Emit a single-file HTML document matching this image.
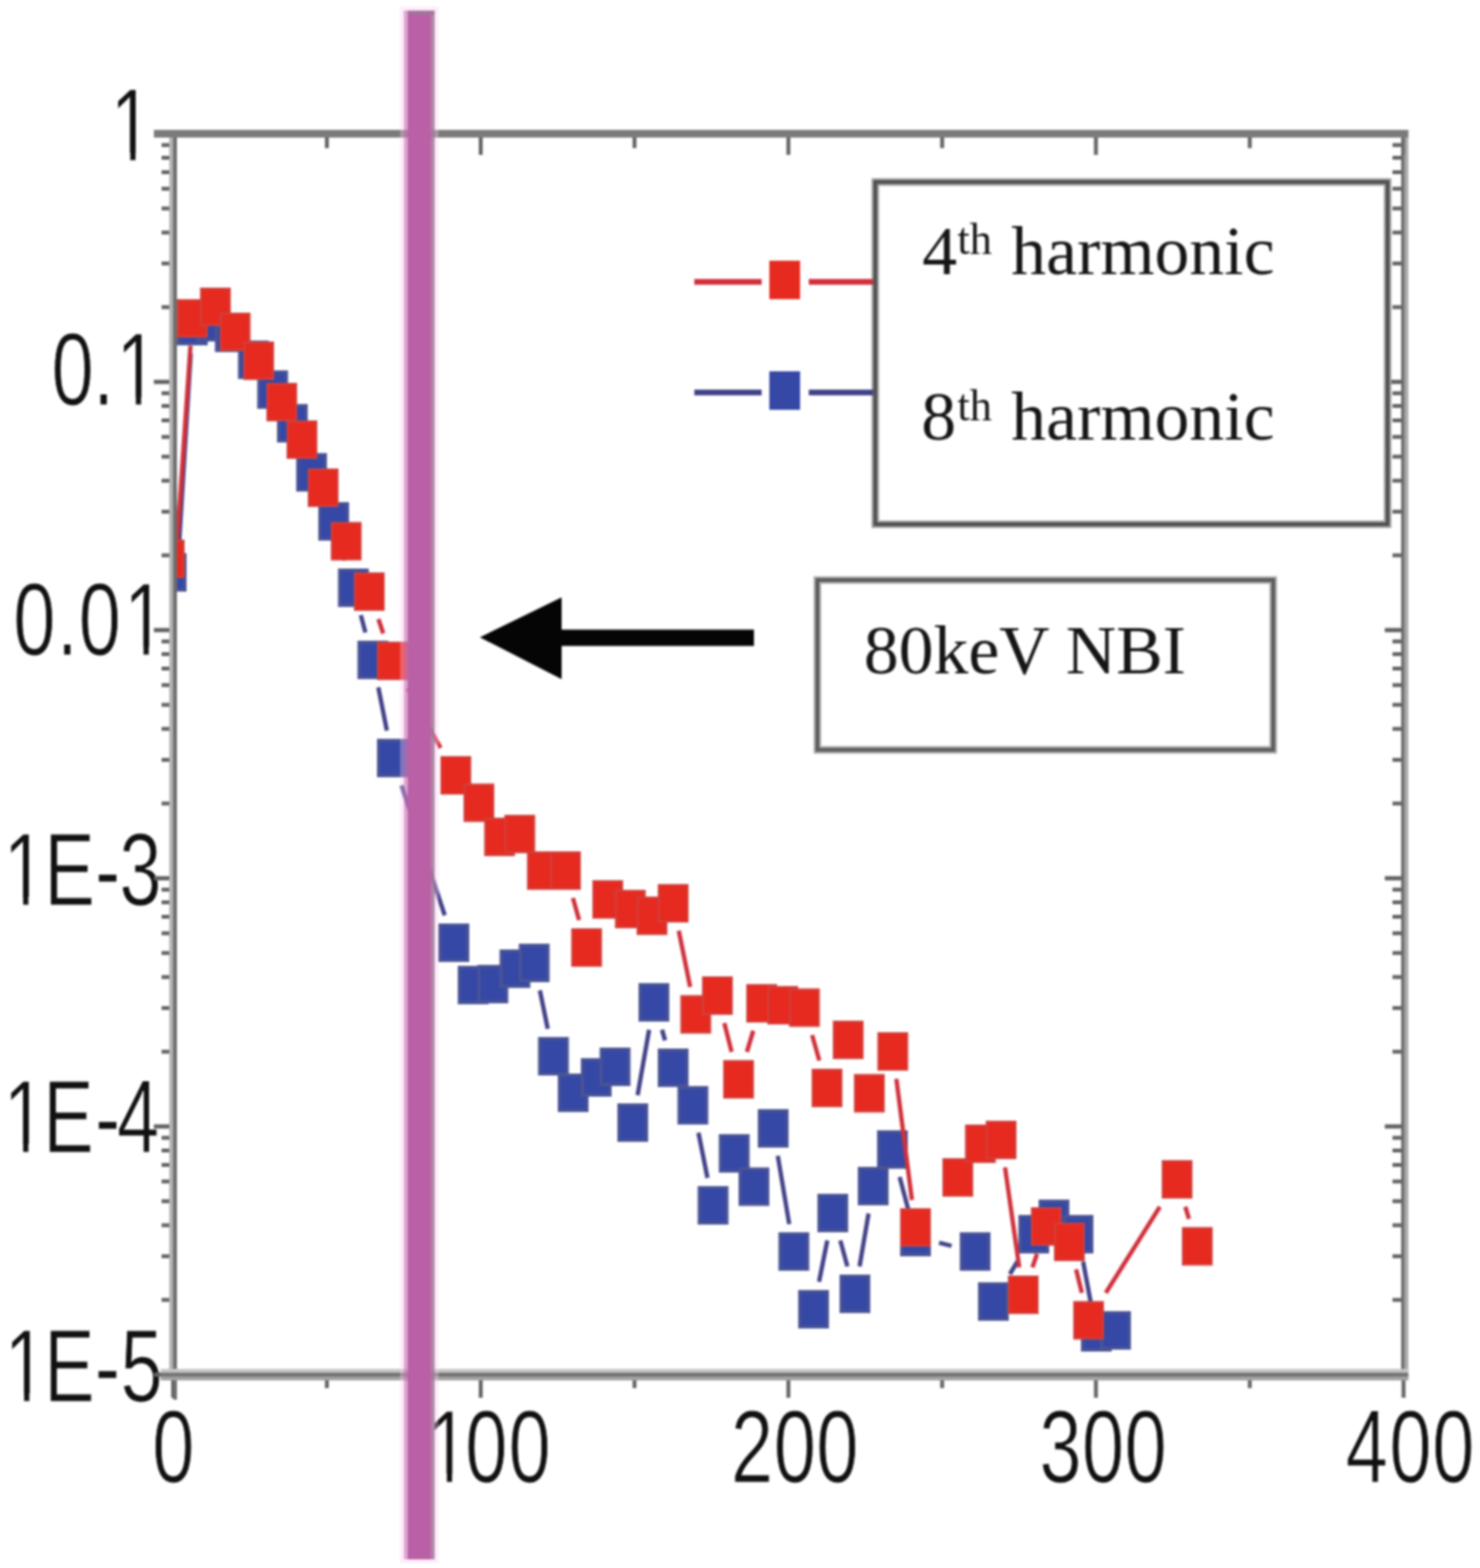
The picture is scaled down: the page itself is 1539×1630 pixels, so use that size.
<!DOCTYPE html>
<html><head><meta charset="utf-8"><title>Spectrum</title>
<style>html,body{margin:0;padding:0;background:#fff;overflow:hidden}svg{display:block}</style>
</head><body>
<svg width="1539" height="1630" viewBox="0 0 1539 1630" style="filter:blur(1.2px)">
<rect width="1539" height="1630" fill="#fff"/>
<defs><clipPath id="c0"><path clip-rule="evenodd" d="M0,0H1539V1630H0Z M117.2,158.4H135.5V170.5H117.2Z M140.9,158.4H159.2V170.5H140.9Z"/></clipPath><clipPath id="c1"><path clip-rule="evenodd" d="M0,0H1539V1630H0Z M123.0,412.4H141.3V424.5H123.0Z M146.7,412.4H165.0V424.5H146.7Z"/></clipPath><clipPath id="c2"><path clip-rule="evenodd" d="M0,0H1539V1630H0Z M131.0,672.2H149.3V684.3H131.0Z M154.7,672.2H173.0V684.3H154.7Z"/></clipPath><clipPath id="c3"><path clip-rule="evenodd" d="M0,0H1539V1630H0Z M5.8,932.2H24.1V944.3H5.8Z M29.5,932.2H47.8V944.3H29.5Z"/></clipPath><clipPath id="c4"><path clip-rule="evenodd" d="M0,0H1539V1630H0Z M5.8,1188.9H24.1V1201.0H5.8Z M29.5,1188.9H47.8V1201.0H29.5Z"/></clipPath><clipPath id="c5"><path clip-rule="evenodd" d="M0,0H1539V1630H0Z M6.8,1448.2H25.1V1460.3H6.8Z M30.5,1448.2H48.8V1460.3H30.5Z"/></clipPath><clipPath id="c6"><path clip-rule="evenodd" d="M0,0H1539V1630H0Z M446.4,1532.1H464.7V1544.2H446.4Z M470.1,1532.1H488.4V1544.2H470.1Z"/></clipPath></defs>
<g style="font-family:'Liberation Sans',Arial,sans-serif" fill="#111" stroke="#fff" stroke-width="1.2">
<g clip-path="url(#c0)"><text transform="scale(0.74,1)" x="155.19" y="167.5" font-size="107">1</text></g>
<g clip-path="url(#c1)"><text transform="scale(0.74,1)" x="72.27 130.81 163.03" y="421.5" font-size="107">0.1</text></g>
<g clip-path="url(#c2)"><text transform="scale(0.74,1)" x="18.49 79.60 110.51 173.84" y="681.3" font-size="107">0.01</text></g>
<g clip-path="url(#c3)"><text transform="scale(0.74,1)" x="4.65 62.23 133.40 167.45" y="941.3" font-size="107">1E-3</text></g>
<g clip-path="url(#c4)"><text transform="scale(0.74,1)" x="4.65 60.61 133.40 164.37" y="1198" font-size="107">1E-4</text></g>
<g clip-path="url(#c5)"><text transform="scale(0.74,1)" x="6.00 61.69 133.00 169.27" y="1457.3" font-size="107">1E-5</text></g>
<text transform="scale(0.74,1)" x="213.89" y="1541.2" font-size="107">0</text>
<g clip-path="url(#c6)"><text transform="scale(0.74,1)" x="600.06 653.76 714.43" y="1541.2" font-size="107">100</text></g>
<text transform="scale(0.74,1)" x="1027.00 1087.14 1147.14" y="1541.2" font-size="107">200</text>
<text transform="scale(0.74,1)" x="1460.42 1520.24 1580.11" y="1541.2" font-size="107">300</text>
<text transform="scale(0.74,1)" x="1890.72 1952.41 2012.41" y="1541.2" font-size="107">400</text>
</g>
<g>
<rect x="168.0" y="317.3" width="12.0" height="4.0" fill="#626262"/>
<rect x="1448.0" y="317.3" width="10.0" height="4.0" fill="#626262"/>
<rect x="168.0" y="271.9" width="12.0" height="4.0" fill="#626262"/>
<rect x="1448.0" y="271.9" width="10.0" height="4.0" fill="#626262"/>
<rect x="168.0" y="239.7" width="12.0" height="4.0" fill="#626262"/>
<rect x="1448.0" y="239.7" width="10.0" height="4.0" fill="#626262"/>
<rect x="168.0" y="214.7" width="12.0" height="4.0" fill="#626262"/>
<rect x="1448.0" y="214.7" width="10.0" height="4.0" fill="#626262"/>
<rect x="168.0" y="194.2" width="12.0" height="4.0" fill="#626262"/>
<rect x="1448.0" y="194.2" width="10.0" height="4.0" fill="#626262"/>
<rect x="168.0" y="177.0" width="12.0" height="4.0" fill="#626262"/>
<rect x="1448.0" y="177.0" width="10.0" height="4.0" fill="#626262"/>
<rect x="168.0" y="162.0" width="12.0" height="4.0" fill="#626262"/>
<rect x="1448.0" y="162.0" width="10.0" height="4.0" fill="#626262"/>
<rect x="168.0" y="148.8" width="12.0" height="4.0" fill="#626262"/>
<rect x="1448.0" y="148.8" width="10.0" height="4.0" fill="#626262"/>
<rect x="168.0" y="575.3" width="12.0" height="4.0" fill="#626262"/>
<rect x="1448.0" y="575.3" width="10.0" height="4.0" fill="#626262"/>
<rect x="168.0" y="529.9" width="12.0" height="4.0" fill="#626262"/>
<rect x="1448.0" y="529.9" width="10.0" height="4.0" fill="#626262"/>
<rect x="168.0" y="497.7" width="12.0" height="4.0" fill="#626262"/>
<rect x="1448.0" y="497.7" width="10.0" height="4.0" fill="#626262"/>
<rect x="168.0" y="472.7" width="12.0" height="4.0" fill="#626262"/>
<rect x="1448.0" y="472.7" width="10.0" height="4.0" fill="#626262"/>
<rect x="168.0" y="452.2" width="12.0" height="4.0" fill="#626262"/>
<rect x="1448.0" y="452.2" width="10.0" height="4.0" fill="#626262"/>
<rect x="168.0" y="435.0" width="12.0" height="4.0" fill="#626262"/>
<rect x="1448.0" y="435.0" width="10.0" height="4.0" fill="#626262"/>
<rect x="168.0" y="420.0" width="12.0" height="4.0" fill="#626262"/>
<rect x="1448.0" y="420.0" width="10.0" height="4.0" fill="#626262"/>
<rect x="168.0" y="406.8" width="12.0" height="4.0" fill="#626262"/>
<rect x="1448.0" y="406.8" width="10.0" height="4.0" fill="#626262"/>
<rect x="168.0" y="833.3" width="12.0" height="4.0" fill="#626262"/>
<rect x="1448.0" y="833.3" width="10.0" height="4.0" fill="#626262"/>
<rect x="168.0" y="787.9" width="12.0" height="4.0" fill="#626262"/>
<rect x="1448.0" y="787.9" width="10.0" height="4.0" fill="#626262"/>
<rect x="168.0" y="755.7" width="12.0" height="4.0" fill="#626262"/>
<rect x="1448.0" y="755.7" width="10.0" height="4.0" fill="#626262"/>
<rect x="168.0" y="730.7" width="12.0" height="4.0" fill="#626262"/>
<rect x="1448.0" y="730.7" width="10.0" height="4.0" fill="#626262"/>
<rect x="168.0" y="710.2" width="12.0" height="4.0" fill="#626262"/>
<rect x="1448.0" y="710.2" width="10.0" height="4.0" fill="#626262"/>
<rect x="168.0" y="693.0" width="12.0" height="4.0" fill="#626262"/>
<rect x="1448.0" y="693.0" width="10.0" height="4.0" fill="#626262"/>
<rect x="168.0" y="678.0" width="12.0" height="4.0" fill="#626262"/>
<rect x="1448.0" y="678.0" width="10.0" height="4.0" fill="#626262"/>
<rect x="168.0" y="664.8" width="12.0" height="4.0" fill="#626262"/>
<rect x="1448.0" y="664.8" width="10.0" height="4.0" fill="#626262"/>
<rect x="168.0" y="1091.3" width="12.0" height="4.0" fill="#626262"/>
<rect x="1448.0" y="1091.3" width="10.0" height="4.0" fill="#626262"/>
<rect x="168.0" y="1045.9" width="12.0" height="4.0" fill="#626262"/>
<rect x="1448.0" y="1045.9" width="10.0" height="4.0" fill="#626262"/>
<rect x="168.0" y="1013.7" width="12.0" height="4.0" fill="#626262"/>
<rect x="1448.0" y="1013.7" width="10.0" height="4.0" fill="#626262"/>
<rect x="168.0" y="988.7" width="12.0" height="4.0" fill="#626262"/>
<rect x="1448.0" y="988.7" width="10.0" height="4.0" fill="#626262"/>
<rect x="168.0" y="968.2" width="12.0" height="4.0" fill="#626262"/>
<rect x="1448.0" y="968.2" width="10.0" height="4.0" fill="#626262"/>
<rect x="168.0" y="951.0" width="12.0" height="4.0" fill="#626262"/>
<rect x="1448.0" y="951.0" width="10.0" height="4.0" fill="#626262"/>
<rect x="168.0" y="936.0" width="12.0" height="4.0" fill="#626262"/>
<rect x="1448.0" y="936.0" width="10.0" height="4.0" fill="#626262"/>
<rect x="168.0" y="922.8" width="12.0" height="4.0" fill="#626262"/>
<rect x="1448.0" y="922.8" width="10.0" height="4.0" fill="#626262"/>
<rect x="168.0" y="1349.3" width="12.0" height="4.0" fill="#626262"/>
<rect x="1448.0" y="1349.3" width="10.0" height="4.0" fill="#626262"/>
<rect x="168.0" y="1303.9" width="12.0" height="4.0" fill="#626262"/>
<rect x="1448.0" y="1303.9" width="10.0" height="4.0" fill="#626262"/>
<rect x="168.0" y="1271.7" width="12.0" height="4.0" fill="#626262"/>
<rect x="1448.0" y="1271.7" width="10.0" height="4.0" fill="#626262"/>
<rect x="168.0" y="1246.7" width="12.0" height="4.0" fill="#626262"/>
<rect x="1448.0" y="1246.7" width="10.0" height="4.0" fill="#626262"/>
<rect x="168.0" y="1226.2" width="12.0" height="4.0" fill="#626262"/>
<rect x="1448.0" y="1226.2" width="10.0" height="4.0" fill="#626262"/>
<rect x="168.0" y="1209.0" width="12.0" height="4.0" fill="#626262"/>
<rect x="1448.0" y="1209.0" width="10.0" height="4.0" fill="#626262"/>
<rect x="168.0" y="1194.0" width="12.0" height="4.0" fill="#626262"/>
<rect x="1448.0" y="1194.0" width="10.0" height="4.0" fill="#626262"/>
<rect x="168.0" y="1180.8" width="12.0" height="4.0" fill="#626262"/>
<rect x="1448.0" y="1180.8" width="10.0" height="4.0" fill="#626262"/>
<rect x="160.0" y="136.8" width="20.0" height="4.4" fill="#626262"/>
<rect x="1440.0" y="136.8" width="18.0" height="4.4" fill="#626262"/>
<rect x="160.0" y="394.8" width="20.0" height="4.4" fill="#626262"/>
<rect x="1440.0" y="394.8" width="18.0" height="4.4" fill="#626262"/>
<rect x="160.0" y="652.8" width="20.0" height="4.4" fill="#626262"/>
<rect x="1440.0" y="652.8" width="18.0" height="4.4" fill="#626262"/>
<rect x="160.0" y="910.8" width="20.0" height="4.4" fill="#626262"/>
<rect x="1440.0" y="910.8" width="18.0" height="4.4" fill="#626262"/>
<rect x="160.0" y="1168.8" width="20.0" height="4.4" fill="#626262"/>
<rect x="1440.0" y="1168.8" width="18.0" height="4.4" fill="#626262"/>
<rect x="160.0" y="1426.8" width="20.0" height="4.4" fill="#626262"/>
<rect x="1440.0" y="1426.8" width="18.0" height="4.4" fill="#626262"/>
<rect x="178.0" y="1431.0" width="4.0" height="22.0" fill="#626262"/>
<rect x="178.0" y="139.0" width="4.0" height="22.0" fill="#626262"/>
<rect x="337.9" y="1431.0" width="4.0" height="12.0" fill="#626262"/>
<rect x="337.9" y="139.0" width="4.0" height="15.0" fill="#626262"/>
<rect x="497.9" y="1431.0" width="4.0" height="22.0" fill="#626262"/>
<rect x="497.9" y="139.0" width="4.0" height="22.0" fill="#626262"/>
<rect x="657.8" y="1431.0" width="4.0" height="12.0" fill="#626262"/>
<rect x="657.8" y="139.0" width="4.0" height="15.0" fill="#626262"/>
<rect x="817.8" y="1431.0" width="4.0" height="22.0" fill="#626262"/>
<rect x="817.8" y="139.0" width="4.0" height="22.0" fill="#626262"/>
<rect x="977.7" y="1431.0" width="4.0" height="12.0" fill="#626262"/>
<rect x="977.7" y="139.0" width="4.0" height="15.0" fill="#626262"/>
<rect x="1137.6" y="1431.0" width="4.0" height="22.0" fill="#626262"/>
<rect x="1137.6" y="139.0" width="4.0" height="22.0" fill="#626262"/>
<rect x="1297.6" y="1431.0" width="4.0" height="12.0" fill="#626262"/>
<rect x="1297.6" y="139.0" width="4.0" height="15.0" fill="#626262"/>
<rect x="1457.5" y="1431.0" width="4.0" height="22.0" fill="#626262"/>
<rect x="1457.5" y="139.0" width="4.0" height="22.0" fill="#626262"/>
<rect x="176.0" y="137.0" width="4.0" height="1294.0" fill="#b4b4b4"/>
<rect x="180.0" y="135.0" width="4.0" height="1320.0" fill="#6e6e6e"/>
<rect x="1460.5" y="135.0" width="3.9" height="1300.0" fill="#a8a8a8"/>
<rect x="1457.0" y="135.0" width="3.5" height="1300.0" fill="#6a6a6a"/>
<rect x="160.0" y="135.0" width="1304.4" height="8.0" fill="#7b7b7b"/>
<rect x="167.0" y="1423.0" width="1297.4" height="4.0" fill="#c4c4c4"/>
<rect x="167.0" y="1427.0" width="1297.4" height="4.0" fill="#737373"/>
<rect x="167.0" y="1431.0" width="1297.4" height="4.0" fill="#a2a2a2"/>
</g>

<defs><clipPath id="pc"><rect x="184" y="143" width="1273" height="1280"/></clipPath></defs>
<g clip-path="url(#pc)">
<path d="M185.0,585.0L198.3,367.5M355.5,570.5L359.0,582.5M375.2,639.5L380.0,657.5M393.4,714.5L402.3,759.5M417.5,816.5L462.5,951.5M561.4,1029.5L569.6,1069.5M663.0,1138.5L675.0,1070.5M688.4,1070.5L691.6,1081.5M726.3,1177.5L735.7,1224.5M808.8,1201.5L820.7,1272.5M851.7,1332.5L860.3,1289.5M873.8,1289.5L881.2,1316.5M893.8,1316.5L903.2,1261.5M935.5,1223.5L944.5,1257.5M976.5,1291.9L989.5,1295.1M1050.1,1324.5L1057.9,1311.5M1126.3,1311.5L1134.7,1356.5" fill="none" stroke="#424288" stroke-width="4.5"/>
<rect x="163.5" y="576.5" width="29" height="37" fill="#3648a6" stroke="#4a5494" stroke-width="3"/>
<rect x="185.5" y="320.5" width="29" height="37" fill="#3648a6" stroke="#4a5494" stroke-width="3"/>
<rect x="205.5" y="316.5" width="29" height="37" fill="#3648a6" stroke="#4a5494" stroke-width="3"/>
<rect x="225.0" y="327.5" width="29" height="37" fill="#3648a6" stroke="#4a5494" stroke-width="3"/>
<rect x="249.0" y="355.5" width="29" height="37" fill="#3648a6" stroke="#4a5494" stroke-width="3"/>
<rect x="269.0" y="386.5" width="29" height="37" fill="#3648a6" stroke="#4a5494" stroke-width="3"/>
<rect x="289.5" y="421.5" width="29" height="37" fill="#3648a6" stroke="#4a5494" stroke-width="3"/>
<rect x="309.5" y="472.5" width="29" height="37" fill="#3648a6" stroke="#4a5494" stroke-width="3"/>
<rect x="332.5" y="523.5" width="29" height="37" fill="#3648a6" stroke="#4a5494" stroke-width="3"/>
<rect x="353.0" y="592.5" width="29" height="37" fill="#3648a6" stroke="#4a5494" stroke-width="3"/>
<rect x="373.2" y="667.5" width="29" height="37" fill="#3648a6" stroke="#4a5494" stroke-width="3"/>
<rect x="393.5" y="769.5" width="29" height="37" fill="#3648a6" stroke="#4a5494" stroke-width="3"/>
<rect x="457.5" y="961.5" width="29" height="37" fill="#3648a6" stroke="#4a5494" stroke-width="3"/>
<rect x="477.5" y="1005.5" width="29" height="37" fill="#3648a6" stroke="#4a5494" stroke-width="3"/>
<rect x="498.0" y="1004.5" width="29" height="37" fill="#3648a6" stroke="#4a5494" stroke-width="3"/>
<rect x="521.0" y="988.5" width="29" height="37" fill="#3648a6" stroke="#4a5494" stroke-width="3"/>
<rect x="541.0" y="982.5" width="29" height="37" fill="#3648a6" stroke="#4a5494" stroke-width="3"/>
<rect x="561.0" y="1079.5" width="29" height="37" fill="#3648a6" stroke="#4a5494" stroke-width="3"/>
<rect x="581.5" y="1117.5" width="29" height="37" fill="#3648a6" stroke="#4a5494" stroke-width="3"/>
<rect x="605.5" y="1101.5" width="29" height="37" fill="#3648a6" stroke="#4a5494" stroke-width="3"/>
<rect x="625.1" y="1090.5" width="29" height="37" fill="#3648a6" stroke="#4a5494" stroke-width="3"/>
<rect x="643.5" y="1148.5" width="29" height="37" fill="#3648a6" stroke="#4a5494" stroke-width="3"/>
<rect x="665.5" y="1023.5" width="29" height="37" fill="#3648a6" stroke="#4a5494" stroke-width="3"/>
<rect x="685.5" y="1091.5" width="29" height="37" fill="#3648a6" stroke="#4a5494" stroke-width="3"/>
<rect x="706.0" y="1130.5" width="29" height="37" fill="#3648a6" stroke="#4a5494" stroke-width="3"/>
<rect x="727.0" y="1234.5" width="29" height="37" fill="#3648a6" stroke="#4a5494" stroke-width="3"/>
<rect x="749.0" y="1180.5" width="29" height="37" fill="#3648a6" stroke="#4a5494" stroke-width="3"/>
<rect x="769.5" y="1215.1" width="29" height="37" fill="#3648a6" stroke="#4a5494" stroke-width="3"/>
<rect x="789.5" y="1154.5" width="29" height="37" fill="#3648a6" stroke="#4a5494" stroke-width="3"/>
<rect x="811.0" y="1282.5" width="29" height="37" fill="#3648a6" stroke="#4a5494" stroke-width="3"/>
<rect x="831.5" y="1342.5" width="29" height="37" fill="#3648a6" stroke="#4a5494" stroke-width="3"/>
<rect x="851.5" y="1242.5" width="29" height="37" fill="#3648a6" stroke="#4a5494" stroke-width="3"/>
<rect x="874.5" y="1326.5" width="29" height="37" fill="#3648a6" stroke="#4a5494" stroke-width="3"/>
<rect x="893.5" y="1214.5" width="29" height="37" fill="#3648a6" stroke="#4a5494" stroke-width="3"/>
<rect x="913.5" y="1176.5" width="29" height="37" fill="#3648a6" stroke="#4a5494" stroke-width="3"/>
<rect x="937.5" y="1267.5" width="29" height="37" fill="#3648a6" stroke="#4a5494" stroke-width="3"/>
<rect x="999.5" y="1282.5" width="29" height="37" fill="#3648a6" stroke="#4a5494" stroke-width="3"/>
<rect x="1018.5" y="1334.5" width="29" height="37" fill="#3648a6" stroke="#4a5494" stroke-width="3"/>
<rect x="1060.5" y="1264.5" width="29" height="37" fill="#3648a6" stroke="#4a5494" stroke-width="3"/>
<rect x="1081.5" y="1248.5" width="29" height="37" fill="#3648a6" stroke="#4a5494" stroke-width="3"/>
<rect x="1106.5" y="1264.5" width="29" height="37" fill="#3648a6" stroke="#4a5494" stroke-width="3"/>
<rect x="1125.5" y="1366.5" width="29" height="37" fill="#3648a6" stroke="#4a5494" stroke-width="3"/>
<rect x="1145.5" y="1364.5" width="29" height="37" fill="#3648a6" stroke="#4a5494" stroke-width="3"/>
<path d="M184.0,565.0L198.1,359.5M393.5,643.5L398.5,658.5M423.8,715.5L458.2,777.5M595.8,933.5L602.2,956.5M705.8,967.5L717.7,1026.0M753.2,1063.5L760.8,1093.5M776.7,1093.5L783.3,1071.5M844.5,1076.0L852.0,1102.5M932.1,1121.5L948.3,1247.5M1045.1,1213.5L1059.9,1317.5M1073.6,1317.5L1078.4,1303.5M1119.0,1319.5L1125.0,1344.0M1149.9,1344.0L1206.1,1254.5M1232.6,1254.5L1236.4,1267.1" fill="none" stroke="#d0303c" stroke-width="4.5"/>
<rect x="161.0" y="562.0" width="30" height="38" fill="#e62a20" stroke="#d0403c" stroke-width="2"/>
<rect x="185.0" y="312.0" width="30" height="38" fill="#e62a20" stroke="#d0403c" stroke-width="2"/>
<rect x="209.0" y="300.0" width="30" height="38" fill="#e62a20" stroke="#d0403c" stroke-width="2"/>
<rect x="229.5" y="326.0" width="30" height="38" fill="#e62a20" stroke="#d0403c" stroke-width="2"/>
<rect x="254.0" y="356.0" width="30" height="38" fill="#e62a20" stroke="#d0403c" stroke-width="2"/>
<rect x="278.0" y="399.0" width="30" height="38" fill="#e62a20" stroke="#d0403c" stroke-width="2"/>
<rect x="299.0" y="438.0" width="30" height="38" fill="#e62a20" stroke="#d0403c" stroke-width="2"/>
<rect x="321.0" y="488.0" width="30" height="38" fill="#e62a20" stroke="#d0403c" stroke-width="2"/>
<rect x="345.0" y="543.6" width="30" height="38" fill="#e62a20" stroke="#d0403c" stroke-width="2"/>
<rect x="369.0" y="596.0" width="30" height="38" fill="#e62a20" stroke="#d0403c" stroke-width="2"/>
<rect x="393.0" y="668.0" width="30" height="38" fill="#e62a20" stroke="#d0403c" stroke-width="2"/>
<rect x="459.0" y="787.0" width="30" height="38" fill="#e62a20" stroke="#d0403c" stroke-width="2"/>
<rect x="483.0" y="815.5" width="30" height="38" fill="#e62a20" stroke="#d0403c" stroke-width="2"/>
<rect x="504.5" y="851.0" width="30" height="38" fill="#e62a20" stroke="#d0403c" stroke-width="2"/>
<rect x="525.5" y="848.0" width="30" height="38" fill="#e62a20" stroke="#d0403c" stroke-width="2"/>
<rect x="549.0" y="886.0" width="30" height="38" fill="#e62a20" stroke="#d0403c" stroke-width="2"/>
<rect x="573.0" y="886.0" width="30" height="38" fill="#e62a20" stroke="#d0403c" stroke-width="2"/>
<rect x="595.0" y="966.0" width="30" height="38" fill="#e62a20" stroke="#d0403c" stroke-width="2"/>
<rect x="617.0" y="916.0" width="30" height="38" fill="#e62a20" stroke="#d0403c" stroke-width="2"/>
<rect x="640.5" y="926.0" width="30" height="38" fill="#e62a20" stroke="#d0403c" stroke-width="2"/>
<rect x="663.0" y="933.0" width="30" height="38" fill="#e62a20" stroke="#d0403c" stroke-width="2"/>
<rect x="685.0" y="920.0" width="30" height="38" fill="#e62a20" stroke="#d0403c" stroke-width="2"/>
<rect x="708.5" y="1035.5" width="30" height="38" fill="#e62a20" stroke="#d0403c" stroke-width="2"/>
<rect x="731.0" y="1016.0" width="30" height="38" fill="#e62a20" stroke="#d0403c" stroke-width="2"/>
<rect x="753.0" y="1103.0" width="30" height="38" fill="#e62a20" stroke="#d0403c" stroke-width="2"/>
<rect x="777.0" y="1024.0" width="30" height="38" fill="#e62a20" stroke="#d0403c" stroke-width="2"/>
<rect x="799.0" y="1026.0" width="30" height="38" fill="#e62a20" stroke="#d0403c" stroke-width="2"/>
<rect x="821.5" y="1028.5" width="30" height="38" fill="#e62a20" stroke="#d0403c" stroke-width="2"/>
<rect x="845.0" y="1112.0" width="30" height="38" fill="#e62a20" stroke="#d0403c" stroke-width="2"/>
<rect x="867.0" y="1062.0" width="30" height="38" fill="#e62a20" stroke="#d0403c" stroke-width="2"/>
<rect x="889.0" y="1117.5" width="30" height="38" fill="#e62a20" stroke="#d0403c" stroke-width="2"/>
<rect x="913.4" y="1074.0" width="30" height="38" fill="#e62a20" stroke="#d0403c" stroke-width="2"/>
<rect x="937.0" y="1257.0" width="30" height="38" fill="#e62a20" stroke="#d0403c" stroke-width="2"/>
<rect x="981.0" y="1205.0" width="30" height="38" fill="#e62a20" stroke="#d0403c" stroke-width="2"/>
<rect x="1004.5" y="1170.0" width="30" height="38" fill="#e62a20" stroke="#d0403c" stroke-width="2"/>
<rect x="1026.0" y="1166.0" width="30" height="38" fill="#e62a20" stroke="#d0403c" stroke-width="2"/>
<rect x="1049.0" y="1327.0" width="30" height="38" fill="#e62a20" stroke="#d0403c" stroke-width="2"/>
<rect x="1073.0" y="1256.0" width="30" height="38" fill="#e62a20" stroke="#d0403c" stroke-width="2"/>
<rect x="1097.0" y="1272.0" width="30" height="38" fill="#e62a20" stroke="#d0403c" stroke-width="2"/>
<rect x="1117.0" y="1353.5" width="30" height="38" fill="#e62a20" stroke="#d0403c" stroke-width="2"/>
<rect x="1209.0" y="1207.0" width="30" height="38" fill="#e62a20" stroke="#d0403c" stroke-width="2"/>
<rect x="1230.0" y="1276.6" width="30" height="38" fill="#e62a20" stroke="#d0403c" stroke-width="2"/>
</g>
<!-- legend -->
<rect x="910.2" y="189.2" width="532.7" height="355.8" fill="#fff" stroke="#a8a8a8" stroke-width="8"/>
<rect x="910.2" y="189.2" width="532.7" height="355.8" fill="none" stroke="#505050" stroke-width="4"/>
<line x1="722" y1="293" x2="792" y2="293" stroke="#d0303c" stroke-width="6"/>
<line x1="841" y1="293" x2="908" y2="293" stroke="#d0303c" stroke-width="6"/>
<rect x="800" y="271" width="32" height="40" fill="#e62a20"/>
<line x1="722" y1="408" x2="792" y2="408" stroke="#424288" stroke-width="6"/>
<line x1="841" y1="408" x2="908" y2="408" stroke="#424288" stroke-width="6"/>
<rect x="800" y="386" width="32" height="40" fill="#3648a6"/>
<g style="font-family:'Liberation Serif','Times New Roman',serif" fill="#151515">
<text x="958.9" y="284.5" font-size="72.5">4</text><text x="995.4" y="264" font-size="46.5">th</text><text x="1051.6" y="284.5" font-size="72.5">harmonic</text>
<text x="958" y="457.3" font-size="72.5">8</text><text x="995.4" y="437" font-size="46.5">th</text><text x="1051.6" y="457.3" font-size="72.5">harmonic</text>
</g>
<!-- NBI box -->
<rect x="850" y="603" width="474" height="176.5" fill="#fff" stroke="#b0b0b0" stroke-width="8"/>
<rect x="850" y="603" width="474" height="176.5" fill="none" stroke="#5c5c5c" stroke-width="4"/>
<text x="898.2" y="700" style="font-family:'Liberation Serif','Times New Roman',serif" font-size="72.5" fill="#151515">80keV NBI</text>
<!-- arrow -->
<polygon points="499,662.5 584,621 584,654.5 784,654.5 784,671.5 584,671.5 584,706" fill="#050505"/>
<!-- purple bar -->
<rect x="416" y="7" width="40" height="1618" fill="#ffc8f4" opacity="0.35"/>
<rect x="420" y="11" width="4" height="1610" fill="#b960a6" opacity="0.5"/>
<rect x="424" y="11" width="24" height="1610" fill="#b960a6"/>
<rect x="424" y="11" width="28" height="4" fill="#a07898" opacity="0.9"/>
<rect x="448" y="11" width="4" height="1610" fill="#a07898" opacity="0.85"/>
</svg>
</body></html>
